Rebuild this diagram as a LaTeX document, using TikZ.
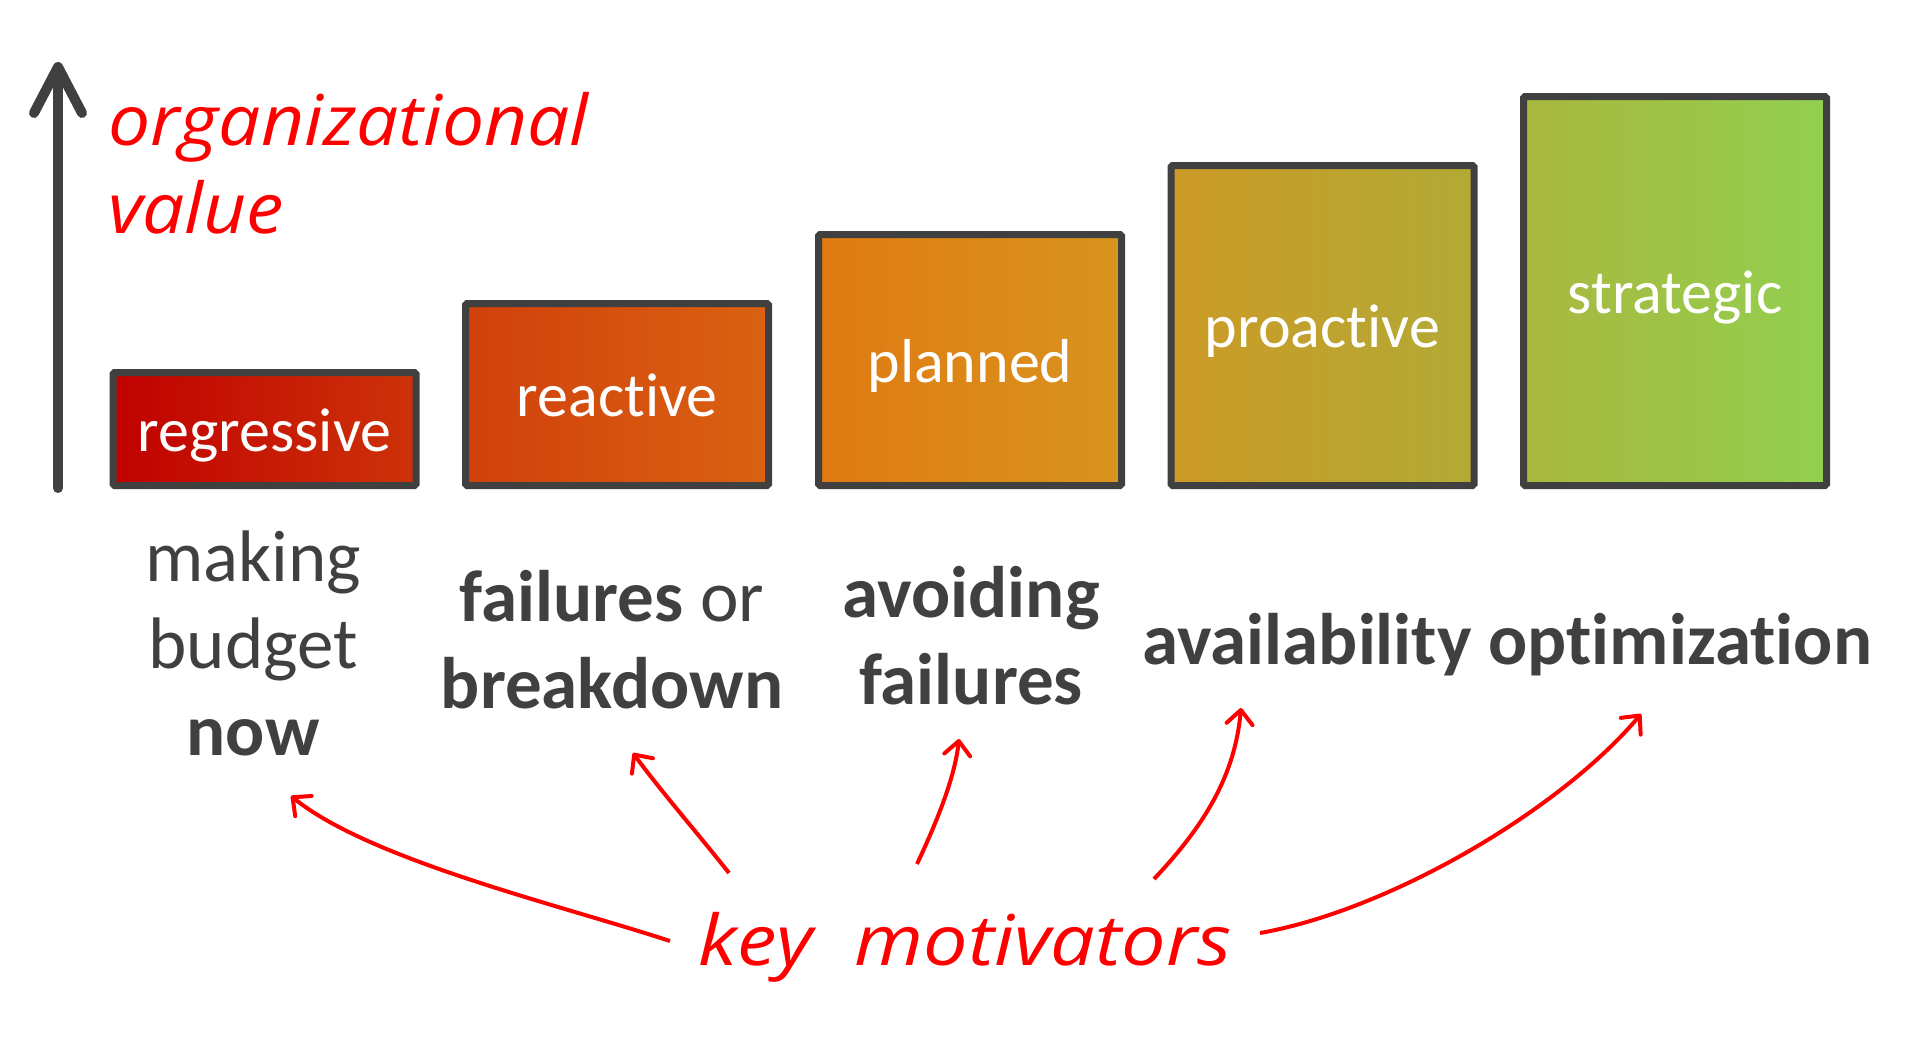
\documentclass[tikz,border=0pt]{standalone}
\usepackage{fontspec}
\setmainfont{Carlito}[Ligatures={NoCommon,NoContextual}]
\newfontfamily\handfont{Open Sans}[FakeStretch=1.07]
\newfontfamily\handwide{Open Sans}[FakeStretch=1.13]
\usetikzlibrary{arrows.meta}
\definecolor{dgray}{HTML}{404040}
\definecolor{hred}{HTML}{FF0000}
\definecolor{cA}{HTML}{C00000}\definecolor{cB}{HTML}{CD3309}
\definecolor{cC}{HTML}{D0400B}\definecolor{cD}{HTML}{DA6212}
\definecolor{cE}{HTML}{E07A12}\definecolor{cF}{HTML}{D8941F}
\definecolor{cG}{HTML}{CC9A26}\definecolor{cH}{HTML}{B2AA36}
\definecolor{cI}{HTML}{A9B73E}\definecolor{cJ}{HTML}{92D050}
\begin{document}
\begin{tikzpicture}[x=1pt,y=-1pt,
  stepbox/.style={draw=dgray, line width=7pt, rounded corners=1.5pt, minimum width=303pt,
    text height=44pt, text depth=0pt, inner sep=0pt, text=white, font=\fontsize{62}{74}\selectfont},
  graytxt/.style={text=dgray, font=\fontsize{73}{87}\selectfont, align=center, inner sep=0pt},
  handtxt/.style={text=hred, font=\handfont\itshape\fontsize{70}{84}\selectfont, inner sep=0pt},
  redarrow/.style={draw=hred, line width=4pt, -{Straight Barb[length=14pt,width=26pt,round]}}
]
\useasboundingbox (0,0) rectangle (1927,1037);

% axis
\coordinate (axbot) at (58,488);
\coordinate (axtop) at (58,62);
\draw[dgray, line width=10pt, line cap=round, -{Straight Barb[length=46pt,width=48pt,round]}] (axbot) -- (axtop);
\node[handtxt, anchor=base west] (org) at (108,145) {organizational};
\node[handtxt, anchor=base west] (val) at (108,233) {value};

% boxes
\node[stepbox, minimum height=113pt, left color=cA, right color=cB] (b1) at (264.5,429) {regressive};
\node[stepbox, minimum height=182pt, left color=cC, right color=cD] (b2) at (617,394.5) {reactive};
\node[stepbox, minimum height=251pt, left color=cE, right color=cF] (b3) at (970,360) {planned};
\node[stepbox, minimum height=320pt, left color=cG, right color=cH] (b4) at (1322.5,325.5) {proactive};
\node[stepbox, minimum height=389pt, left color=cI, right color=cJ] (b5) at (1675,291) {strategic};

% texts below
\node[graytxt] (t1) at (253,643) {making\\budget\\\textbf{now}};
\node[graytxt] (t2) at (612,640) {\textbf{failures} or\\\textbf{breakdown}};
\node[graytxt] (t3) at (971,636) {\textbf{avoiding}\\\textbf{failures}};
\node[graytxt, anchor=base] (t4) at (1507,664) {\textbf{availabilit\kern0pt y optimizat\kern0pt ion}};

% key motivators
\node[handtxt, font=\handwide\itshape\fontsize{70}{84}\selectfont, anchor=base] (km) at (965,965) {key\hspace{0.6em}motivators};

\coordinate (s1) at (670,941);  \coordinate (e1) at (291,796);
\coordinate (s2) at (729,873);  \coordinate (e2) at (633,753);
\coordinate (s3) at (917,864);  \coordinate (e3) at (959,739);
\coordinate (s4) at (1154,879); \coordinate (e4) at (1241,708);
\coordinate (s5) at (1260,933); \coordinate (e5) at (1641,714);

\draw[redarrow] (s1) .. controls (560,905) and (370,860) .. (e1);
\draw[redarrow] (s2) .. controls (695,830) and (660,790) .. (e2);
\draw[redarrow] (s3) .. controls (940,815) and (955,775) .. (e3);
\draw[redarrow] (s4) .. controls (1205,825) and (1235,775) .. (e4);
\draw[redarrow] (s5) .. controls (1390,910) and (1560,810) .. (e5);
\end{tikzpicture}
\end{document}
